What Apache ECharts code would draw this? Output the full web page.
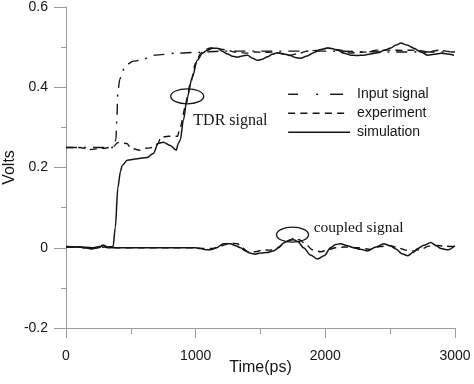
<!DOCTYPE html>
<html><head><meta charset="utf-8">
<script src="https://cdn.jsdelivr.net/npm/echarts@6/dist/echarts.min.js"></script>
<style>html,body{margin:0;padding:0;background:#fff}#c{width:474px;height:384px}</style>
</head><body><div id="c"></div>
<script>
// ---- data (time in ps, voltage in V) ----
const inputT = [0, 370, 385, 392, 400, 415, 435, 460, 520, 580, 680, 860, 1010, 1200, 1500, 2000, 2500, 3000];
const inputV = [0.25, 0.25, 0.27, 0.32, 0.39, 0.42, 0.44, 0.455, 0.465, 0.468, 0.48, 0.485, 0.487, 0.49, 0.49, 0.49, 0.488, 0.488];

const expTdrT = [0, 100, 186, 300, 363, 400, 470, 500, 570, 620, 670, 710, 730, 790, 860, 880, 920, 960, 1000, 1040, 1080, 1113, 1168, 1210, 1245, 1300, 1400, 1460, 1520, 1600, 1680, 1732, 1800, 1860, 1950, 2018, 2070, 2120, 2190, 2250, 2300, 2400, 2500, 2600, 2700, 2790, 2890, 2950, 3000];
const expTdrV = [0.25, 0.25, 0.245, 0.248, 0.252, 0.262, 0.26, 0.248, 0.243, 0.248, 0.25, 0.26, 0.275, 0.278, 0.278, 0.30, 0.35, 0.41, 0.46, 0.485, 0.495, 0.498, 0.497, 0.494, 0.4925, 0.488, 0.485, 0.488, 0.487, 0.4875, 0.483, 0.48, 0.485, 0.49, 0.4925, 0.4975, 0.495, 0.4925, 0.485, 0.487, 0.4875, 0.4925, 0.4925, 0.492, 0.4925, 0.488, 0.4925, 0.489, 0.485];

const simTdrT = [0, 100, 200, 260, 290, 320, 363, 380, 400, 420, 433, 472, 549, 626, 673, 711, 750, 804, 850, 866, 881, 905, 935, 974, 1013, 1052, 1090, 1130, 1168, 1205, 1245, 1285, 1322, 1360, 1400, 1440, 1477, 1515, 1554, 1590, 1631, 1680, 1732, 1770, 1809, 1860, 1910, 1965, 2018, 2055, 2095, 2145, 2196, 2245, 2296, 2350, 2405, 2455, 2505, 2545, 2583, 2630, 2683, 2740, 2791, 2840, 2892, 2940, 2992];
const simTdrV = [0.002, 0.002, 0.0, 0.003, 0.006, 0.002, 0.003, 0.05, 0.15, 0.19, 0.205, 0.218, 0.222, 0.225, 0.235, 0.26, 0.263, 0.255, 0.243, 0.26, 0.268, 0.3175, 0.375, 0.425, 0.4675, 0.485, 0.4925, 0.497, 0.497, 0.49, 0.483, 0.477, 0.475, 0.478, 0.48, 0.472, 0.467, 0.47, 0.476, 0.482, 0.486, 0.483, 0.479, 0.474, 0.472, 0.478, 0.486, 0.494, 0.498, 0.496, 0.492, 0.485, 0.48, 0.479, 0.48, 0.483, 0.486, 0.492, 0.498, 0.505, 0.51, 0.505, 0.497, 0.487, 0.48, 0.482, 0.485, 0.483, 0.48];

const expCplT = [0, 100, 186, 300, 400, 600, 800, 1000, 1060, 1137, 1200, 1268, 1322, 1360, 1400, 1460, 1523, 1577, 1630, 1678, 1732, 1760, 1800, 1850, 1900, 1964, 2020, 2080, 2150, 2250, 2350, 2420, 2500, 2560, 2620, 2683, 2740, 2800, 2860, 2920, 3000];
const expCplV = [0.003, 0.002, -0.003, 0.002, 0.0, 0.0, 0.0, 0.0, -0.002, -0.002, 0.005, 0.012, 0.01, 0.0, -0.01, -0.01, -0.005, -0.006, 0.0, 0.01, 0.02, 0.025, 0.02, 0.008, -0.005, -0.01, -0.005, 0.0, 0.002, 0.0, -0.004, 0.003, 0.005, 0.0, -0.006, -0.008, -0.003, 0.004, 0.006, 0.004, 0.003];

const simCplT = [0, 100, 180, 250, 286, 320, 400, 600, 800, 1000, 1036, 1080, 1113, 1160, 1214, 1268, 1310, 1345, 1385, 1423, 1460, 1500, 1550, 1600, 1640, 1678, 1720, 1755, 1790, 1832, 1885, 1941, 1990, 2041, 2080, 2119, 2170, 2219, 2270, 2327, 2390, 2451, 2500, 2544, 2590, 2637, 2675, 2714, 2760, 2814, 2855, 2892, 2946, 3000];
const simCplV = [0.002, 0.002, -0.002, 0.0, 0.006, 0.0, 0.0, 0.0, 0.0, 0.0, -0.002, -0.005, -0.005, 0.0, 0.01, 0.01, 0.005, 0.0, -0.008, -0.014, -0.016, -0.013, -0.012, -0.008, 0.0, 0.012, 0.018, 0.02, 0.015, 0.0, -0.018, -0.028, -0.02, 0.0, 0.008, 0.01, 0.005, 0.0, -0.004, -0.008, 0.002, 0.01, 0.005, -0.003, -0.015, -0.02, -0.012, -0.002, 0.006, 0.013, 0.005, -0.002, -0.005, 0.005];

const xTickInterval = 1000;
const yTickInterval = 0.2;
const seriesNames = ['Input signal', 'experiment', 'simulation'];

// ---- chart ----
function pairs(t, v) { return t.map((x, i) => [x, v[i]]); }
const ink = '#151515';
const axisGray = '#9c9c9c';
const sans = 'Liberation Sans, Arial, sans-serif';
const serif = 'Liberation Serif, Times New Roman, serif';
const dashDot = [11, 7, 2, 7];
const dashed = [7, 5];

const chart = echarts.init(document.getElementById('c'), null, { renderer: 'canvas' });
function line(name, data, dash, w) {
  return {
    type: 'line', name: name, data: data, showSymbol: false, symbol: 'none',
    smooth: 0.3, smoothMonotone: 'x', animation: false, silent: true,
    lineStyle: { color: ink, width: w, type: dash }
  };
}
chart.setOption({
  animation: false,
  backgroundColor: '#fff',
  grid: { left: 66, right: 19, top: 7, bottom: 56, containLabel: false, outerBoundsMode: 'none' },
  xAxis: {
    type: 'value', min: 0, max: 3000, interval: xTickInterval,
    name: 'Time(ps)', nameLocation: 'middle', nameGap: 32, nameMoveOverlap: false,
    nameTextStyle: { fontFamily: sans, fontSize: 16, color: ink },
    axisLine: { onZero: false, lineStyle: { color: axisGray, width: 1 } },
    axisTick: { show: true, length: 10, lineStyle: { color: axisGray } },
    minorTick: { show: true, splitNumber: 2, length: 6, lineStyle: { color: axisGray } },
    splitLine: { show: false },
    axisLabel: { margin: 21, fontSize: 14, color: ink, fontFamily: sans, formatter: v => String(v) }
  },
  yAxis: {
    type: 'value', min: -0.2, max: 0.6, interval: yTickInterval,
    name: 'Volts', nameLocation: 'middle', nameGap: 48, nameRotate: 90, nameMoveOverlap: false,
    nameTextStyle: { fontFamily: sans, fontSize: 16, color: ink },
    axisLine: { show: true, onZero: false, lineStyle: { color: axisGray, width: 1 } },
    axisTick: { show: true, length: 12, lineStyle: { color: axisGray } },
    minorTick: { show: true, splitNumber: 2, length: 5, lineStyle: { color: axisGray } },
    splitLine: { show: false },
    axisLabel: { margin: 18, fontSize: 14, color: ink, fontFamily: sans,
      formatter: v => String(Math.round(v * 10) / 10) }
  },
  series: [
    line(seriesNames[0], pairs(inputT, inputV), dashDot, 1.4),
    line(seriesNames[1], pairs(expTdrT, expTdrV), dashed, 1.4),
    line(seriesNames[1], pairs(expCplT, expCplV), dashed, 1.4),
    line(seriesNames[2], pairs(simTdrT, simTdrV), 'solid', 1.5),
    line(seriesNames[2], pairs(simCplT, simCplV), 'solid', 1.5)
  ]
});

// ---- annotations & legend (positioned through the axes' scales) ----
const P = (t, v) => chart.convertToPixel({ gridIndex: 0 }, [t, v]);
const e1 = P(935, 0.3775), e2 = P(1747, 0.0325);
const tdr = P(982, 0.3175), cpl = P(1910, 0.05);
const lg = P(1713, 0.3825); // legend anchor (first row, sample start)
const rowGap = 19;
const g = [
  { type: 'ellipse', shape: { cx: e1[0], cy: e1[1], rx: 16.5, ry: 7.5 }, style: { fill: 'none', stroke: ink, lineWidth: 1.3 } },
  { type: 'ellipse', shape: { cx: e2[0], cy: e2[1], rx: 16, ry: 7.5 }, style: { fill: 'none', stroke: ink, lineWidth: 1.3 } },
  { type: 'text', x: tdr[0], y: tdr[1], style: { text: 'TDR signal', fill: ink, font: '16px ' + serif, verticalAlign: 'middle', align: 'left' } },
  { type: 'text', x: cpl[0], y: cpl[1], style: { text: 'coupled signal', fill: ink, font: '15.5px ' + serif, verticalAlign: 'middle', align: 'left' } }
];
const lx = lg[0], ly = lg[1];
// Input signal sample: dash, dot, dash
g.push({ type: 'line', shape: { x1: lx, y1: ly, x2: lx + 10, y2: ly }, style: { stroke: ink, lineWidth: 1.4 } });
g.push({ type: 'line', shape: { x1: lx + 28, y1: ly, x2: lx + 30, y2: ly }, style: { stroke: ink, lineWidth: 1.4 } });
g.push({ type: 'line', shape: { x1: lx + 42, y1: ly, x2: lx + 55, y2: ly }, style: { stroke: ink, lineWidth: 1.4 } });
g.push({ type: 'line', shape: { x1: lx, y1: ly + rowGap, x2: lx + 60, y2: ly + rowGap }, style: { stroke: ink, lineWidth: 1.4, lineDash: [7, 5.25] } });
g.push({ type: 'line', shape: { x1: lx, y1: ly + 2 * rowGap, x2: lx + 62, y2: ly + 2 * rowGap }, style: { stroke: ink, lineWidth: 1.5 } });
seriesNames.forEach((n, i) => {
  g.push({ type: 'text', x: lx + 69, y: ly + i * rowGap, style: { text: n, fill: ink, font: '14px ' + sans, verticalAlign: 'middle', align: 'left' } });
});
chart.setOption({ graphic: g });
</script>
</body></html>
